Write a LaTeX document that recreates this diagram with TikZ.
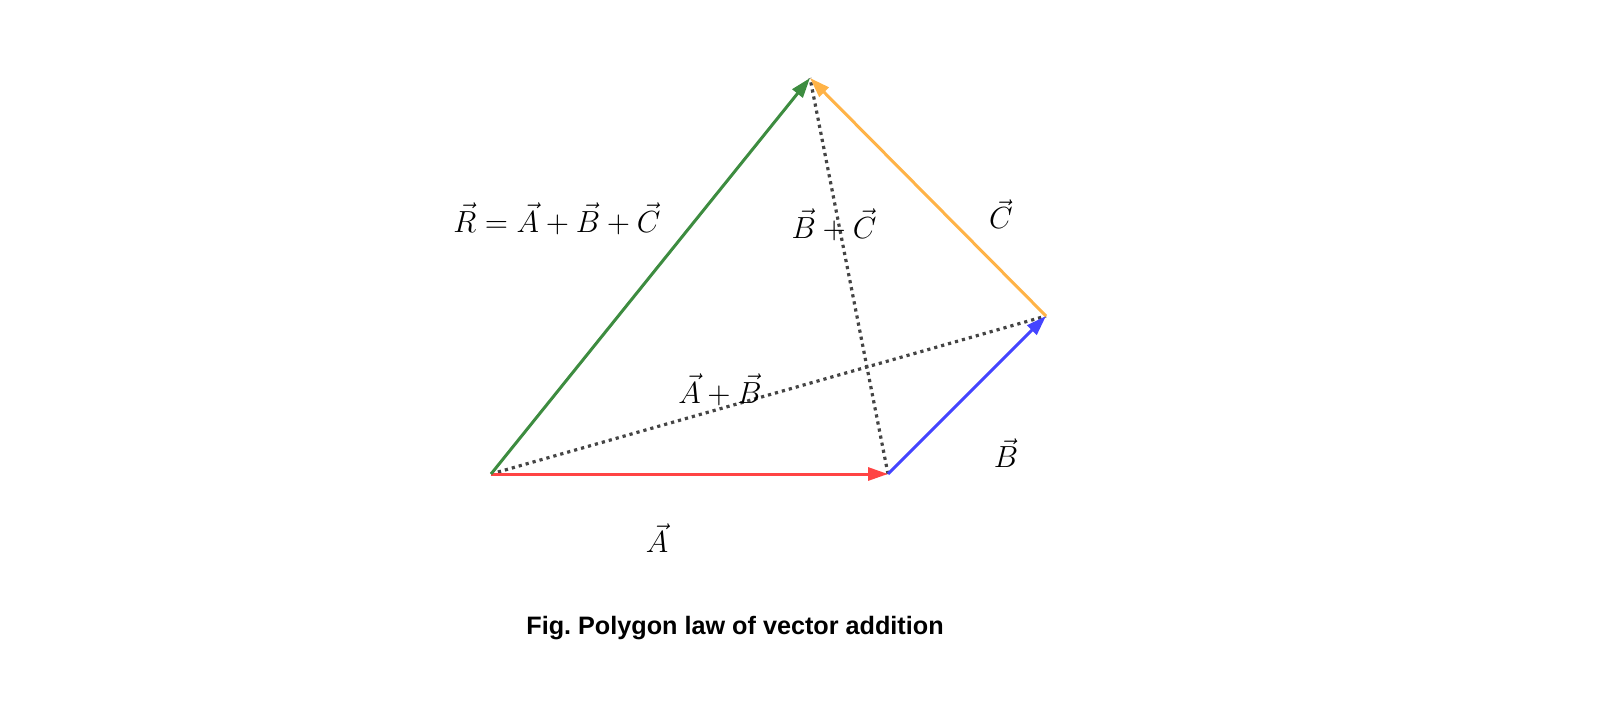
\documentclass[tikz,border=0pt]{standalone}
\usepackage{fontspec}
\newfontfamily\captionfont{Liberation Sans}
\usepackage{tikz}
\usetikzlibrary{arrows.meta,positioning}
\definecolor{vecred}{RGB}{255, 68, 68}
\definecolor{vecblue}{RGB}{68, 68, 255}
\definecolor{vecorange}{RGB}{255, 179, 71}
\definecolor{vecgreen}{RGB}{61, 140, 64}
\definecolor{dotgray}{RGB}{68, 68, 68}

\begin{document}
\begin{tikzpicture}[x=0.5pt, y=-0.5pt,
    vec/.style={line width=1.5pt, -{Triangle[length=10pt,width=6.5pt]}},
    sumline/.style={dotted, line width=1.6pt, dotgray},
    lbl/.style={font=\fontsize{14.4}{17}\selectfont, scale=1.06}]
            \useasboundingbox (0,0) rectangle (1600,702);
            % Corners of the polygon
            \coordinate (O) at (491,474);
            \coordinate (P) at (888,474);
            \coordinate (Q) at (1046,316);
            \coordinate (S) at (810,78);
            
            % Partial sums
            \draw[sumline] (O) -- (Q);
            \draw[sumline] (P) -- (S);
            
            % Vectors
            \draw[vec, vecred] (O) -- (P);
            \draw[vec, vecblue] (P) -- (Q);
            \draw[vec, vecorange] (Q) -- (S);
            \draw[vec, vecgreen] (O) -- (S);
            
            \node[lbl] (labA) at (657,538) {$\vec{A}$};
            \node[lbl] (labB) at (1006,453) {$\vec{B}$};
            \node[lbl] (labC) at (1001,214) {$\vec{C}$};
            \node[lbl] (labAB) at (720,390) {$\vec{A}+\vec{B}$};
            \node[lbl] (labBC) at (834,225) {$\vec{B}+\vec{C}$};
            \node[lbl] (labR) at (557,219) {$\vec{R}=\vec{A}+\vec{B}+\vec{C}$};
            
            \node[font=\captionfont\bfseries\fontsize{12.6}{15}\selectfont] (caption) at (735,628) {\frenchspacing Fig. Polygon law of vector addition};
        \end{tikzpicture}
\end{document}
